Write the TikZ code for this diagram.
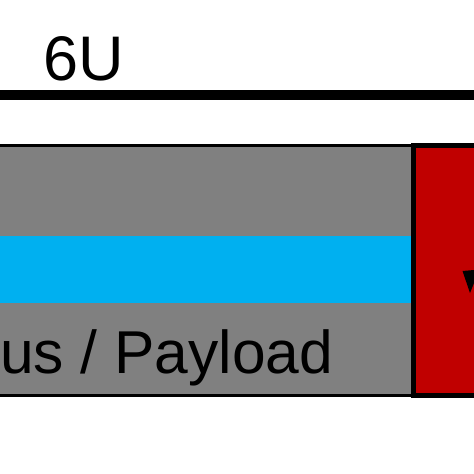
\documentclass[tikz,border=0pt]{standalone}
\usepackage{fontspec}
\setmainfont{Liberation Sans}
\definecolor{busgray}{HTML}{808080}
\definecolor{railblue}{HTML}{00B0F0}
\definecolor{boxred}{HTML}{C00000}
\begin{document}
\begin{tikzpicture}[x=1pt,y=-1pt,
  lbl/.style={inner sep=0pt,font=\fontsize{60}{60}\selectfont}]
\useasboundingbox (0,0) rectangle (474,474);
\begin{scope}
\clip (0,0) rectangle (474,474);
% gray bus/payload box
\fill[busgray] (-20,145) rectangle (413,395);
\fill[railblue] (-20,236) rectangle (413,303);
\draw[line width=3pt] (-20,145) -- (413,145);
\draw[line width=3pt] (-20,395.5) -- (413,395.5);
% red box
\fill[boxred] (413,145.5) rectangle (500,395.5);
\draw[line width=5pt] (500,145.5) -- (413.5,145.5) -- (413.5,395.5) -- (500,395.5);
% wedge inside red box
\fill[black] (462.5,271) -- (474,270) -- (474,283) -- (470,293) -- cycle;
% thick top line
\draw[line width=10pt] (-10,95) -- (484,95);
\end{scope}
\node[lbl,font=\fontsize{63}{63}\selectfont,anchor=base west] (sixu) at (43,80) {6U};
\node[lbl,font=\fontsize{60.5}{60.5}\selectfont,anchor=base east] (bus) at (333.5,373) {us / Payload};
\end{tikzpicture}
\end{document}
